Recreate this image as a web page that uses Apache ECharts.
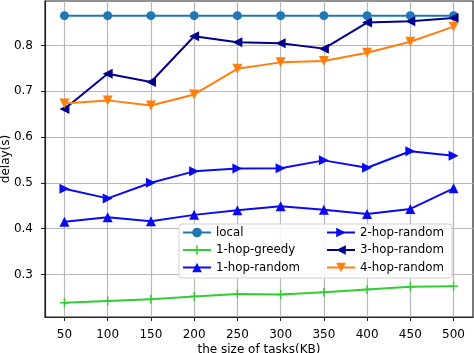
<!DOCTYPE html>
<html>
<head>
<meta charset="utf-8">
<script src="https://cdn.jsdelivr.net/npm/echarts@6/dist/echarts.min.js"></script>
<style>
  html, body { margin: 0; padding: 0; background: #fff; }
  #chart { width: 474px; height: 353px; }
</style>
</head>
<body>
<div id="chart"></div>
<script>
// task sizes (KB)
var sizes = [50, 100, 150, 200, 250, 300, 350, 400, 450, 500]
var xTicks = [50, 100, 150, 200, 250, 300, 350, 400, 450, 500]
var yTicks = [0.3, 0.4, 0.5, 0.6, 0.7, 0.8]

var local = [0.865, 0.865, 0.865, 0.865, 0.865, 0.865, 0.865, 0.865, 0.865, 0.865]
var hop1Greedy = [0.238, 0.242, 0.246, 0.252, 0.257, 0.256, 0.261, 0.267, 0.273, 0.274]
var hop1Random = [0.415, 0.425, 0.416, 0.430, 0.440, 0.449, 0.441, 0.432, 0.443, 0.488]
var hop2Random = [0.487, 0.466, 0.500, 0.525, 0.531, 0.532, 0.549, 0.533, 0.569, 0.559]
var hop3Random = [0.661, 0.738, 0.720, 0.820, 0.807, 0.805, 0.793, 0.850, 0.853, 0.860]
var hop4Random = [0.673, 0.680, 0.669, 0.693, 0.749, 0.763, 0.766, 0.784, 0.808, 0.841]

var font = 'DejaVu Sans'
var plus = 'path://M4.2,0h1.6v10h-1.6zM0,4.2h10v1.6h-10z'

function pairs(vals) {
  return sizes.map(function(s, i) { return [s, vals[i]] })
}

function makeSeries(name, vals, color, symbol, rotate, size) {
  return {
    name: name,
    type: 'line',
    data: pairs(vals),
    symbol: symbol,
    symbolRotate: rotate,
    symbolSize: size,
    showSymbol: true,
    animation: false,
    lineStyle: { color: color, width: 2 },
    itemStyle: { color: color, borderWidth: 0 }
  }
}

var chart = echarts.init(document.getElementById('chart'))

var legendText = { fontFamily: font, fontSize: 11.8, color: '#000', lineHeight: 12 }

var option = {
  animation: false,
  grid: {
    left: 45,
    right: 1,
    top: 1,
    bottom: 36,
    outerBoundsMode: 'none',
    containLabel: false,
    show: true,
    borderColor: '#222',
    borderWidth: 1.2,
    backgroundColor: 'transparent'
  },
  graphic: [
    {
      type: 'rect',
      z: 3,
      shape: { x: 179, y: 224, width: 273, height: 54, r: 3 },
      style: { fill: 'rgba(255,255,255,0.85)', stroke: '#d0d0d0', lineWidth: 1 }
    }
  ],
  legend: [
    {
      z: 4,
      left: 182,
      top: 226.5,
      orient: 'vertical',
      padding: 0,
      itemGap: 5.5,
      itemWidth: 28,
      itemHeight: 12,
      textStyle: legendText,
      data: ['local', '1-hop-greedy', '1-hop-random']
    },
    {
      z: 4,
      left: 326,
      top: 226.5,
      orient: 'vertical',
      padding: 0,
      itemGap: 5.5,
      itemWidth: 28,
      itemHeight: 12,
      textStyle: legendText,
      data: ['2-hop-random', '3-hop-random', '4-hop-random']
    }
  ],
  xAxis: {
    type: 'value',
    min: 27.5,
    max: 522.5,
    name: 'the size of tasks(KB)',
    nameLocation: 'middle',
    nameGap: 27,
    nameMoveOverlap: false,
    nameTextStyle: { fontFamily: font, fontSize: 12, color: '#000' },
    axisLine: { show: true, lineStyle: { color: '#222', width: 1.2 } },
    axisTick: { show: true, length: 4, customValues: xTicks, lineStyle: { color: '#222' } },
    axisLabel: {
      customValues: xTicks,
      margin: 12,
      fontFamily: font,
      fontSize: 12,
      color: '#000'
    },
    splitLine: { show: true, lineStyle: { color: '#b8b8b8', width: 1.2 } }
  },
  yAxis: {
    type: 'value',
    min: 0.207,
    max: 0.897,
    name: 'delay(s)',
    nameLocation: 'middle',
    nameGap: 33,
    nameMoveOverlap: false,
    nameTextStyle: { fontFamily: font, fontSize: 12, color: '#000' },
    axisLine: { show: true, lineStyle: { color: '#222', width: 1.2 } },
    axisTick: { show: true, length: 4, customValues: yTicks, lineStyle: { color: '#222' } },
    axisLabel: {
      customValues: yTicks,
      margin: 12,
      fontFamily: font,
      fontSize: 12,
      color: '#000',
      formatter: function(v) { return v.toFixed(1) }
    },
    splitLine: { show: true, lineStyle: { color: '#b8b8b8', width: 1.2 } }
  },
  series: [
    makeSeries('local', local, '#1f77b4', 'circle', 0, 9),
    makeSeries('1-hop-greedy', hop1Greedy, '#33cc33', plus, 0, 9),
    makeSeries('1-hop-random', hop1Random, '#0a0af0', 'triangle', 0, 10),
    makeSeries('2-hop-random', hop2Random, '#0a0af0', 'triangle', -90, 10),
    makeSeries('3-hop-random', hop3Random, '#00008b', 'triangle', 90, 10),
    makeSeries('4-hop-random', hop4Random, '#ff7f0e', 'triangle', 180, 10)
  ]
}

chart.setOption(option)
</script>
</body>
</html>
